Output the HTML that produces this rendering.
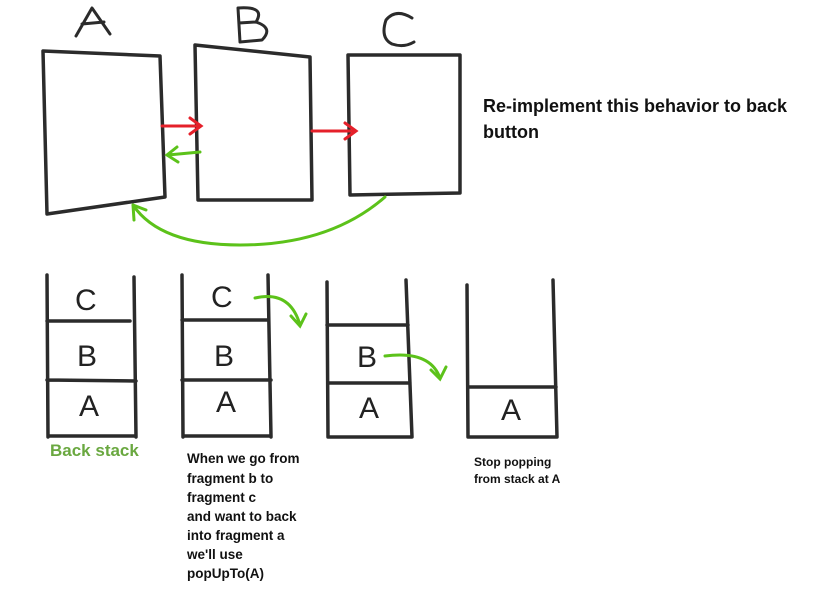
<!DOCTYPE html>
<html><head><meta charset="utf-8"><style>
html,body{margin:0;padding:0;background:#fff;}
svg{display:block;}
.t{font-family:"Liberation Sans",sans-serif;font-weight:bold;}
.h{font-family:"Liberation Sans",sans-serif;font-size:30px;fill:#222;}
</style></head><body>
<svg width="824" height="593" viewBox="0 0 824 593" xmlns="http://www.w3.org/2000/svg">
<g fill="none" stroke="#2b2b2b" stroke-width="3.5" stroke-linejoin="round" stroke-linecap="round">
<path d="M43,51 L160,56 L165,197 L47,214 Z"/>
<path d="M195,45 L310,57 L312,200 L198,200 Z"/>
<path d="M348,55 L460,55 L460,193 L350,195 Z"/>
<path d="M47,275 L48,437 M134,277 L136,437 M47,321 L130,321 M47,380 L136,381 M48,436 L136,436"/>
<path d="M182,275 L183,437 M268,275 L271,437 M182,320 L268,320 M182,380 L271,380 M183,436 L271,436"/>
<path d="M327,282 L328,437 M406,280 L412,437 M327,325 L408,325 M328,383 L410,383 M328,437 L411,437"/>
<path d="M467,285 L468,437 M553,280 L557,437 M468,387 L556,387 M468,437 L557,437"/>
</g>
<g fill="none" stroke="#2b2b2b" stroke-width="3" stroke-linecap="round" stroke-linejoin="round">
<path d="M76,36 L92,8 L110,34 M82,24 L104,22"/>
<path d="M240,42 L238,8 M238,8 Q266,6 256,22 Q274,28 262,40 L240,42 M239,23 L256,22"/>
<path d="M412,18 Q396,8 386,20 Q380,38 392,44 Q404,48 414,42"/>
</g>
<text class="h" x="75" y="310">C</text>
<text class="h" x="77" y="366">B</text>
<text class="h" x="79" y="416">A</text>
<text class="h" x="211" y="307">C</text>
<text class="h" x="214" y="366">B</text>
<text class="h" x="216" y="412">A</text>
<text class="h" x="357" y="367">B</text>
<text class="h" x="359" y="418">A</text>
<text class="h" x="501" y="420">A</text>
<g fill="none" stroke="#e5202a" stroke-width="3" stroke-linecap="round">
<path d="M162,126 L200,126 M190,118 L201,126 L190,134"/>
<path d="M312,131 L355,131 M345,123 L356,131 L345,139"/>
</g>
<g fill="none" stroke="#5cc21a" stroke-width="3" stroke-linecap="round">
<path d="M200,152 L168,155 M177,147 L167,155 L178,162"/>
<path d="M385,197 Q330,245 240,245 Q160,245 133,205 M133,205 L134,220 M133,205 L146,210"/>
<path d="M255,298 Q290,290 300,325 M291,316 L300,326 L306,314"/>
<path d="M385,356 Q430,350 440,378 M431,370 L440,379 L446,367"/>
</g>
<text class="t" x="483" y="112" font-size="18" fill="#111">Re-implement this behavior to back</text>
<text class="t" x="483" y="138" font-size="18" fill="#111">button</text>
<text class="t" x="50" y="456" font-size="17" fill="#6aa840">Back stack</text>
<g class="t" font-size="13.5" fill="#111">
<text x="187" y="463">When we go from</text>
<text x="187" y="483">fragment b to</text>
<text x="187" y="502">fragment c</text>
<text x="187" y="521">and want to back</text>
<text x="187" y="540">into fragment a</text>
<text x="187" y="559">we'll use</text>
<text x="187" y="578">popUpTo(A)</text>
<text x="474" y="466" font-size="12">Stop popping</text>
<text x="474" y="483" font-size="12">from stack at A</text>
</g>
</svg>
</body></html>
